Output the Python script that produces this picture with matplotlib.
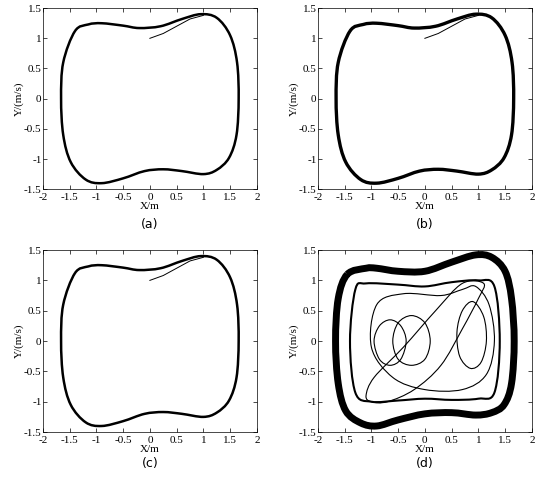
import numpy as np
import matplotlib
matplotlib.use("Agg")
import matplotlib.pyplot as plt
from matplotlib.path import Path
from matplotlib.patches import PathPatch

plt.rcParams['font.family'] = ['Liberation Serif', 'DejaVu Serif']

# Limit-cycle outline (clockwise from left-top)
cyc_x = [-1.40, -1.15, -0.90, -0.50, -0.20, 0.20, 0.60, 0.95, 1.25, 1.50, 1.63, 1.66, 1.62, 1.48, 1.25, 1.00, 0.60, 0.25, -0.10, -0.50, -0.90, -1.20, -1.48, -1.62, -1.66, -1.62]
cyc_y = [1.12, 1.23, 1.25, 1.21, 1.17, 1.20, 1.32, 1.40, 1.34, 1.05, 0.60, 0.00, -0.60, -0.98, -1.18, -1.25, -1.20, -1.17, -1.20, -1.32, -1.40, -1.34, -1.05, -0.60, 0.00, 0.60]
# transient start
tr_x = [0.00, 0.25, 0.50, 0.75, 1.00]
tr_y = [1.00, 1.08, 1.20, 1.32, 1.38]

# (d) chaotic: rings and inner loops
ring_d_x = [-1.45, -1.10, -0.90, -0.50, 0.00, 0.50, 0.95, 1.25, 1.50, 1.62, 1.67, 1.62, 1.48, 1.25, 0.95, 0.50, 0.00, -0.50, -0.90, -1.20, -1.48, -1.62, -1.67, -1.62]
ring_d_y = [1.10, 1.20, 1.20, 1.15, 1.15, 1.30, 1.42, 1.38, 1.15, 0.70, 0.00, -0.70, -1.05, -1.18, -1.22, -1.18, -1.20, -1.30, -1.40, -1.35, -1.15, -0.70, 0.00, 0.70]
mid_d_x = [-1.10, -0.50, 0.00, 0.50, 1.00, 1.30, 1.40, 1.30, 1.00, 0.50, 0.00, -0.50, -1.00, -1.30, -1.40, -1.30]
mid_d_y = [0.95, 0.93, 0.90, 0.97, 1.00, 0.90, 0.00, -0.85, -0.95, -0.97, -0.95, -0.98, -1.00, -0.85, 0.00, 0.85]
loopA_x = [-0.65, -0.45, -0.35, -0.45, -0.65, -0.85, -0.95, -0.85]
loopA_y = [0.35, 0.25, 0.00, -0.30, -0.40, -0.30, 0.00, 0.25]
loopB_x = [-0.25, 0.00, 0.10, 0.00, -0.25, -0.50, -0.60, -0.50]
loopB_y = [0.42, 0.30, 0.00, -0.30, -0.40, -0.30, 0.00, 0.30]
loopC_x = [0.90, 1.10, 1.15, 1.05, 0.85, 0.65, 0.60, 0.70]
loopC_y = [0.65, 0.40, 0.00, -0.35, -0.45, -0.25, 0.15, 0.50]
loopD_x = [0.95, 1.20, 1.30, 1.15, 0.70, 0.00, -0.60, -1.00, -0.90, -0.40, 0.30, 0.70]
loopD_y = [0.90, 0.60, 0.00, -0.55, -0.80, -0.80, -0.60, -0.10, 0.60, 0.78, 0.75, 0.85]
loopE_x = [-0.70, -0.20, 0.30, 0.70, 1.00, 1.10, 0.70, 0.20, -0.40, -0.95, -1.10, -1.00]
loopE_y = [-1.00, -0.80, -0.40, 0.20, 0.70, 0.95, 0.95, 0.50, -0.10, -0.60, -0.90, -1.00]


def smooth_closed(ax, xs, ys, lw):
    pts = np.column_stack([xs, ys])
    n = len(pts)
    verts, codes = [pts[0]], [Path.MOVETO]
    for i in range(n):
        p0, p1, p2, p3 = pts[(i - 1) % n], pts[i], pts[(i + 1) % n], pts[(i + 2) % n]
        verts += [p1 + (p2 - p0) / 6, p2 - (p3 - p1) / 6, p2]
        codes += [Path.CURVE4] * 3
    ax.add_patch(PathPatch(Path(verts, codes), fill=False, lw=lw, color='black'))


fig = plt.figure(figsize=(5.5, 4.79), dpi=100)
boxes = [[0.078, 0.605, 0.389, 0.378], [0.578, 0.605, 0.389, 0.378],
         [0.078, 0.098, 0.389, 0.380], [0.578, 0.098, 0.389, 0.380]]
labels = ['(a)', '(b)', '(c)', '(d)']
lab_y = [0.518, 0.518, 0.019, 0.019]
for k, b in enumerate(boxes):
    ax = fig.add_axes(b)
    ax.set_xlim(-2, 2)
    ax.set_ylim(-1.5, 1.5)
    ax.set_xticks([-2, -1.5, -1, -0.5, 0, 0.5, 1, 1.5, 2])
    ax.set_xticklabels(['-2', '-1.5', '-1', '-0.5', '0', '0.5', '1', '1.5', '2'])
    ax.set_yticks([-1.5, -1, -0.5, 0, 0.5, 1, 1.5])
    ax.set_yticklabels(['-1.5', '-1', '-0.5', '0', '0.5', '1', '1.5'])
    ax.tick_params(direction='in', top=True, right=True, labelsize=8, length=3, pad=1,
                   width=0.5)
    ax.tick_params(axis='x', pad=2.5)
    ax.set_xlabel('X/m', fontsize=8, labelpad=0)
    ax.set_ylabel('Y/(m/s)', fontsize=8, labelpad=0)
    for s in ax.spines.values():
        s.set_linewidth(0.5)
    if k < 3:
        smooth_closed(ax, cyc_x, cyc_y, 1.8 if k != 1 else 2.4)
        ax.plot(tr_x, tr_y, color='black', lw=0.7)
    else:
        smooth_closed(ax, ring_d_x, ring_d_y, 5.0)
        smooth_closed(ax, mid_d_x, mid_d_y, 1.5)
        for lx, ly in [(loopA_x, loopA_y), (loopB_x, loopB_y), (loopC_x, loopC_y),
                       (loopD_x, loopD_y), (loopE_x, loopE_y)]:
            smooth_closed(ax, lx, ly, 0.8)
    fig.text(b[0] + b[2] / 2, lab_y[k], labels[k], ha='center', va='bottom', fontsize=9,
             family=['DejaVu Sans'])

fig.savefig('out.png', dpi=100)
